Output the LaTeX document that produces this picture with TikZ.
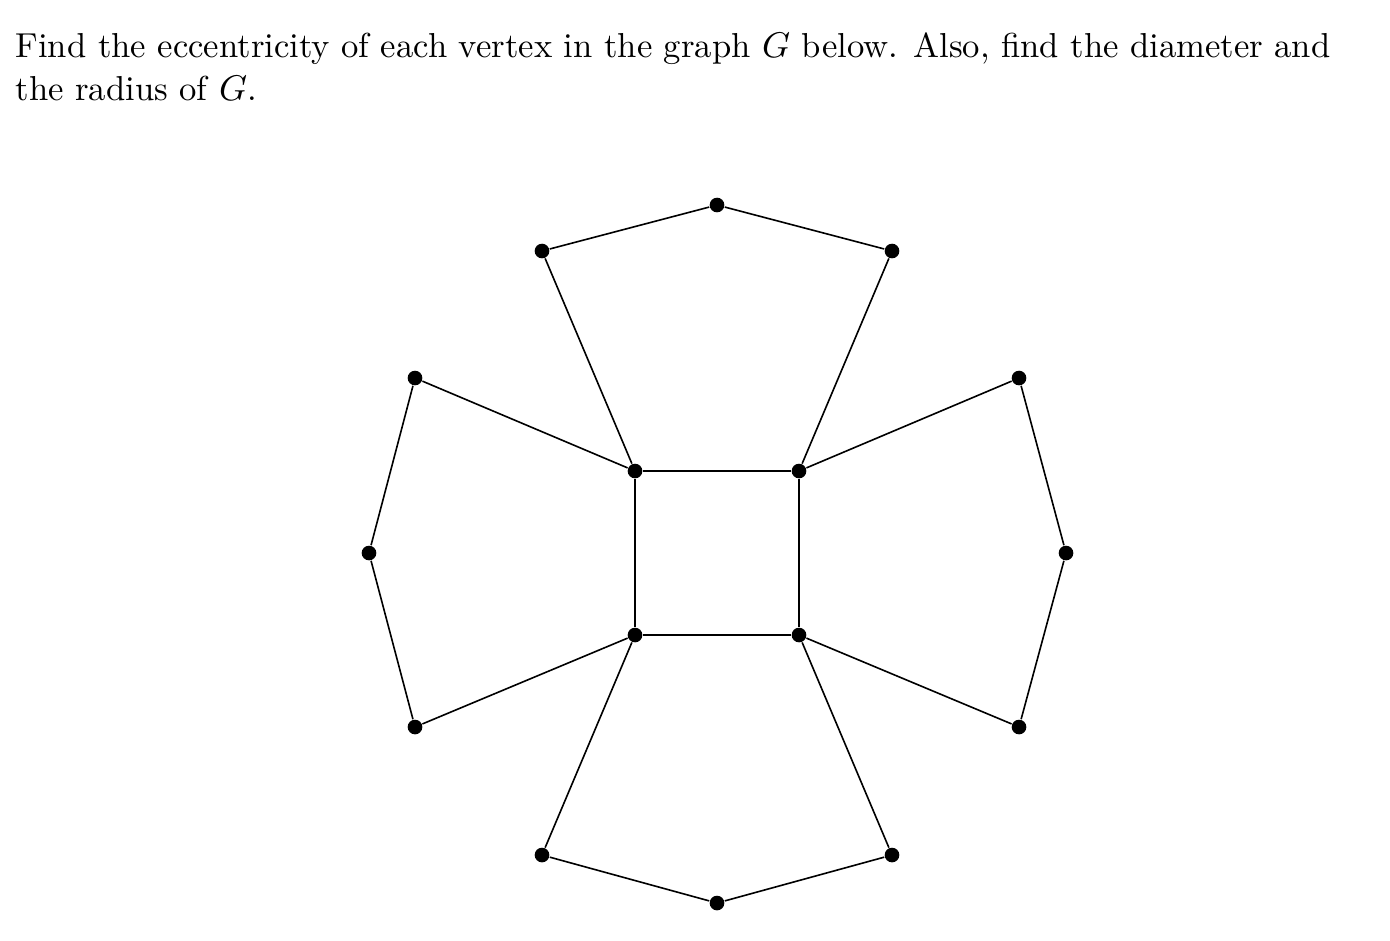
\documentclass[tikz,border=0pt]{standalone}
\begin{document}
\begin{tikzpicture}[x=0.28pt,y=-0.28pt,
  vtx/.style={circle,fill=black,inner sep=0pt,minimum size=4.1pt},
  edge/.style={line width=0.45pt},
  txt/.style={anchor=base west,inner sep=0pt,font=\fontsize{9.7}{11.6}\selectfont}]
\useasboundingbox (0,0) rectangle (1390,940);
\node[txt] (l1) at (15,57) {Find the eccentricity of each vertex in the graph $G$ below. Also, find the diameter and};
\node[txt] (l2) at (15,100) {the radius of $G$.};
% vertices
\node[vtx] (t) at (717,205) {};
\node[vtx] (tl) at (542,251) {};
\node[vtx] (tr) at (892,251) {};
\node[vtx] (a) at (635,471) {};
\node[vtx] (b) at (799,471) {};
\node[vtx] (c) at (635,635) {};
\node[vtx] (d) at (799,635) {};
\node[vtx] (lt) at (415,378) {};
\node[vtx] (l) at (369,553) {};
\node[vtx] (lb) at (415,727) {};
\node[vtx] (rt) at (1019,378) {};
\node[vtx] (r) at (1066,553) {};
\node[vtx] (rb) at (1019,727) {};
\node[vtx] (bl) at (542,855) {};
\node[vtx] (bm) at (717,903) {};
\node[vtx] (br) at (892,855) {};
% edges
\draw[edge] (a) -- (b) -- (d) -- (c) -- (a);
\draw[edge] (a) -- (tl) -- (t) -- (tr) -- (b);
\draw[edge] (a) -- (lt) -- (l) -- (lb) -- (c);
\draw[edge] (b) -- (rt) -- (r) -- (rb) -- (d);
\draw[edge] (c) -- (bl) -- (bm) -- (br) -- (d);
\end{tikzpicture}
\end{document}
